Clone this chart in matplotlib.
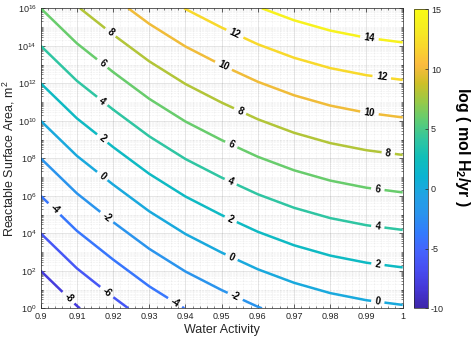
import numpy as np
import matplotlib
matplotlib.use("Agg")
import matplotlib.pyplot as plt
from matplotlib.colors import LinearSegmentedColormap, Normalize
from matplotlib.ticker import FixedLocator, LogLocator, NullFormatter, MultipleLocator
import matplotlib.cm as cm

plt.rcParams['font.family'] = ['Liberation Sans', 'DejaVu Sans']
plt.rcParams['mathtext.fontset'] = 'custom'
plt.rcParams['mathtext.rm'] = 'Liberation Sans'
plt.rcParams['mathtext.it'] = 'Liberation Sans:italic'
plt.rcParams['mathtext.bf'] = 'Liberation Sans:bold'
plt.rcParams['axes.unicode_minus'] = False

# ---- data ----
water_activity = [0.90, 0.91, 0.92, 0.93, 0.94, 0.95, 0.96, 0.97, 0.98, 0.99, 1.00]
# log10(mol H2/yr) minus log10(surface area) at each water activity
rate_offset = [-10.0, -8.13, -6.6, -5.17, -3.96, -2.97, -2.08, -1.36, -0.81, -0.43, -0.18]
contour_levels = [-8, -6, -4, -2, 0, 2, 4, 6, 8, 10, 12, 14]
x_ticks = [0.90, 0.91, 0.92, 0.93, 0.94, 0.95, 0.96, 0.97, 0.98, 0.99, 1.00]
x_ticklabels = ['0.9', '0.91', '0.92', '0.93', '0.94', '0.95', '0.96', '0.97', '0.98', '0.99', '1']
y_exponents = [0, 2, 4, 6, 8, 10, 12, 14, 16]
cbar_ticks = [-10, -5, 0, 5, 10, 15]
# contour label anchor points (water activity, log10 area)
label_points = [
    (0.9192, 14.7), (0.9168, 13.0), (0.9168, 11.0), (0.9168, 9.0), (0.9168, 7.0),
    (0.918, 4.8), (0.9033, 5.2), (0.918, 0.8), (0.9076, 0.55),
    (0.9537, 14.67), (0.9504, 12.89), (0.955, 10.49), (0.9525, 8.67),
    (0.9523, 6.67), (0.9523, 4.67), (0.9526, 2.67), (0.9537, 0.62), (0.9371, 0.3),
    (0.9908, 14.4), (0.9942, 12.3), (0.9908, 10.4), (0.996, 8.27),
    (0.9931, 6.31), (0.9931, 4.32), (0.9931, 2.27), (0.9931, 0.32),
]

# ---- parula colormap (MATLAB) ----
parula_pts = [
    (0.2422, 0.1504, 0.6603), (0.2704, 0.2138, 0.8346), (0.2813, 0.2985, 0.9397),
    (0.2710, 0.3860, 0.9898), (0.2006, 0.4803, 0.9906), (0.1649, 0.5755, 0.9323),
    (0.1321, 0.6363, 0.8932), (0.0433, 0.7039, 0.8242), (0.0638, 0.7446, 0.7292),
    (0.1905, 0.7743, 0.6303), (0.3671, 0.8021, 0.4563), (0.5886, 0.7913, 0.2833),
    (0.8060, 0.7529, 0.1546), (0.9842, 0.7330, 0.2446), (0.9748, 0.8467, 0.1726),
    (0.9618, 0.9320, 0.1304), (0.9769, 0.9839, 0.0805)]
parula_pos = [i * 16 / 255 for i in range(16)] + [1.0]
parula = LinearSegmentedColormap.from_list('parula', list(zip(parula_pos, parula_pts)))
norm = Normalize(vmin=-10, vmax=15)

# ---- grid ----
wa = np.array(water_activity)
off = np.array(rate_offset)
log_area = np.linspace(0, 16, 321)
area = 10.0 ** log_area
Z = log_area[:, None] + off[None, :]

fig = plt.figure(figsize=(4.74, 3.39), dpi=100)
ax = fig.add_axes([40.7 / 474, 1 - 308.3 / 339, 362 / 474, 300 / 339])
cax = fig.add_axes([414 / 474, 1 - 308.3 / 339, 14.3 / 474, 299 / 339])

ax.set_yscale('log')
cs = ax.contour(wa, area, Z, levels=contour_levels, cmap=parula, norm=norm, linewidths=1.8)
manual = [(px, 10.0 ** py) for px, py in label_points]
ax.clabel(cs, fmt='%d', inline=True, inline_spacing=4, fontsize=7,
          manual=manual, colors='black')
for t in cs.labelTexts:
    t.set_fontweight('bold')

ax.set_xlim(0.9, 1.0)
ax.set_ylim(1, 1e16)
ax.xaxis.set_major_locator(FixedLocator(x_ticks))
ax.set_xticklabels(x_ticklabels)
ax.xaxis.set_minor_locator(MultipleLocator(0.002))
ax.yaxis.set_major_locator(FixedLocator([10.0 ** e for e in y_exponents]))
ax.set_yticklabels(['$10^{%d}$' % e for e in y_exponents])
ax.yaxis.set_minor_locator(LogLocator(base=10, subs=np.arange(1, 10), numticks=200))
ax.yaxis.set_minor_formatter(NullFormatter())

ax.tick_params(which='both', direction='in', top=True, right=True, labelsize=6.5,
               colors='#262626', pad=3)
ax.tick_params(which='major', length=3, width=0.5)
ax.tick_params(which='minor', length=1.5, width=0.4)
ax.grid(which='major', color='#262626', alpha=0.17, linewidth=0.5)
ax.grid(which='minor', color='#262626', alpha=0.14, linewidth=0.4, linestyle=':')
for s in ax.spines.values():
    s.set_linewidth(0.5)
    s.set_color('#262626')

ax.set_xlabel('Water Activity', fontsize=9, labelpad=2, color='#262626')
ax.set_ylabel('Reactable Surface Area, m$^2$', fontsize=9, labelpad=0.5, color='#262626')

sm = cm.ScalarMappable(norm=norm, cmap=parula)
cb = fig.colorbar(sm, cax=cax, ticks=cbar_ticks)
cb.outline.set_linewidth(0.5)
cb.outline.set_edgecolor('#262626')
cb.ax.tick_params(labelsize=6.5, direction='in', length=2.5, width=0.5,
                  colors='#262626', pad=2)
cb.set_label(r'log ( mol H$_\mathbf{2}$/yr )', fontsize=11.5, fontweight='bold',
             rotation=270, labelpad=20)
cb.ax.yaxis.label.set_y(0.54)

fig.savefig('out.png', dpi=100)
